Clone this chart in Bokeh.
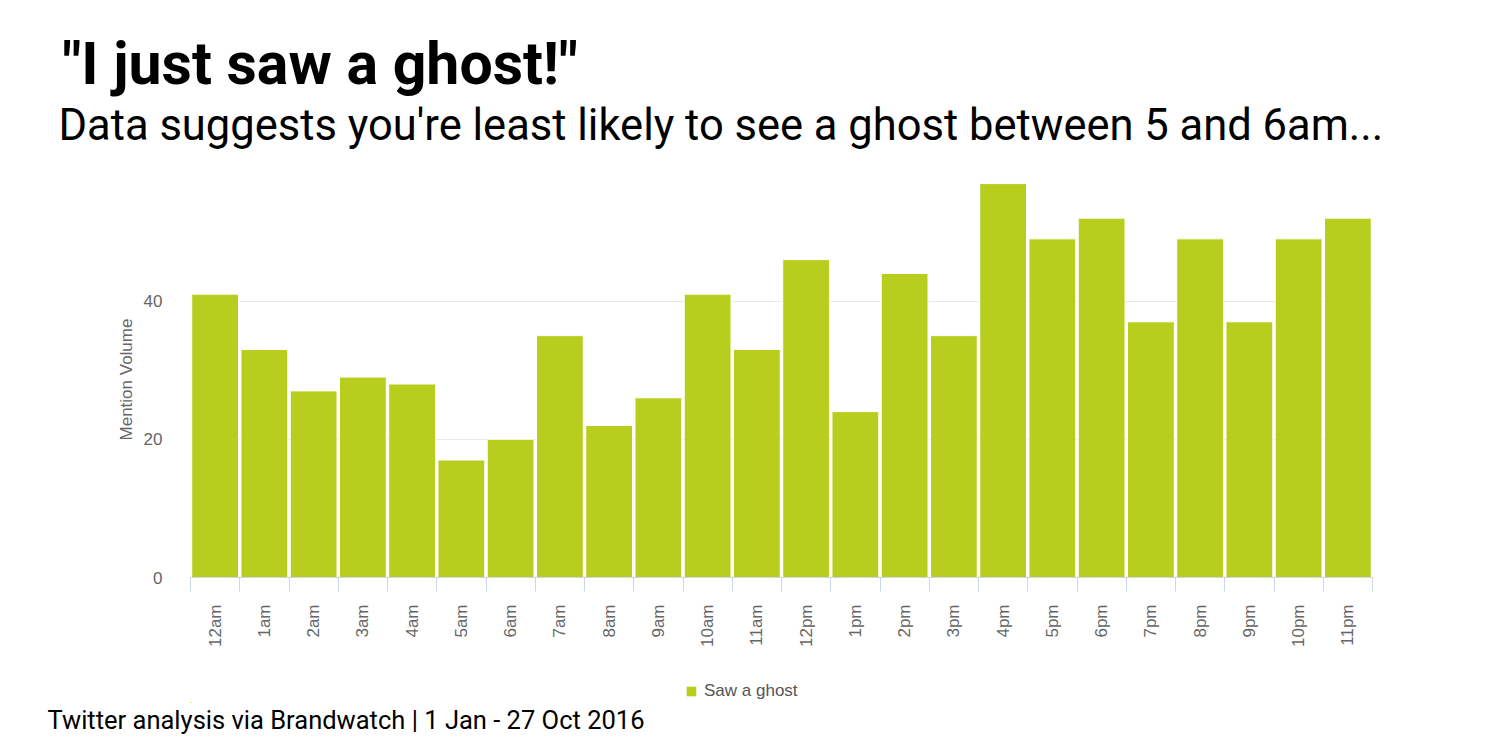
import numpy as np
from bokeh.plotting import figure
from bokeh.layouts import column
from bokeh.models import (ColumnDataSource, Range1d, FixedTicker, LinearAxis, Title,
                          Legend, LegendItem)
from bokeh.embed import file_html
from bokeh.resources import INLINE

hours = ["12am", "1am", "2am", "3am", "4am", "5am", "6am", "7am", "8am", "9am", "10am", "11am",
         "12pm", "1pm", "2pm", "3pm", "4pm", "5pm", "6pm", "7pm", "8pm", "9pm", "10pm", "11pm"]
mentions = [41, 33, 27, 29, 28, 17, 20, 35, 22, 26, 41, 33,
            46, 24, 44, 35, 57, 49, 52, 37, 49, 37, 49, 52]
y_ticks = [0, 20, 40]

title_text = '"I just saw a ghost!"'
subtitle_text = "Data suggests you're least likely to see a ghost between 5 and 6am..."
footer_text = "Twitter analysis via Brandwatch | 1 Jan - 27 Oct 2016"
series_name = "Saw a ghost"

GREEN = "#b7ce1e"
GREY = "#666666"

n = len(hours)
centers = [i + 0.5 for i in range(n)]
bounds = list(range(n + 1))
source = ColumnDataSource(dict(x=centers, top=mentions, hour=hours))

W = 1479
H1 = 665
H2 = 69

p = figure(width=W, height=H1, output_backend="svg", toolbar_location=None, title=None,
           x_range=Range1d(0, n), y_range=Range1d(0, 57.3),
           min_border_left=190, min_border_right=107, min_border_top=181, min_border_bottom=88,
           x_axis_type=None)
p.outline_line_color = None
p.background_fill_color = "white"
p.border_fill_color = "white"

r = p.vbar(x="x", top="top", width=0.95, source=source, fill_color=GREEN,
           line_color="white", line_width=1)

# y axis
p.yaxis.ticker = FixedTicker(ticks=y_ticks)
p.yaxis.axis_line_color = None
p.yaxis.major_tick_line_color = None
p.yaxis.minor_tick_line_color = None
p.yaxis.major_label_text_font = "Liberation Sans"
p.yaxis.major_label_text_font_size = "17px"
p.yaxis.major_label_text_color = GREY
p.yaxis.major_label_standoff = 22
p.yaxis.axis_label = "Mention Volume"
p.yaxis.axis_label_text_font = "Liberation Sans"
p.yaxis.axis_label_text_font_size = "17px"
p.yaxis.axis_label_text_font_style = "normal"
p.yaxis.axis_label_text_color = GREY
p.yaxis.axis_label_standoff = 5
p.ygrid.ticker = FixedTicker(ticks=[20, 40])
p.ygrid.grid_line_color = "#e9e9e9"
p.xgrid.grid_line_color = None

# x axis: labels at category centres, tick marks at category boundaries
ax = LinearAxis(ticker=FixedTicker(ticks=centers, minor_ticks=bounds),
                major_label_overrides={c: h for c, h in zip(centers, hours)})
ax.axis_line_color = "#ccd6eb"
ax.major_tick_line_color = None
ax.major_tick_out = 0
ax.major_tick_in = 0
ax.minor_tick_line_color = "#ccd6eb"
ax.minor_tick_in = 0
ax.minor_tick_out = 14
ax.major_label_orientation = np.pi / 2
ax.major_label_text_font = "Liberation Sans"
ax.major_label_text_font_size = "17px"
ax.major_label_text_color = GREY
ax.major_label_standoff = 13
p.add_layout(ax, "below")

# blank axis above the frame (white tick, empty label), used only as spacing
spacer = LinearAxis(ticker=FixedTicker(ticks=[0]), major_label_overrides={0: ""},
                    axis_line_color=None, major_tick_line_color="white",
                    minor_tick_line_color=None, major_tick_out=31, major_tick_in=0,
                    major_label_standoff=0, major_label_text_font_size="1px")
p.add_layout(spacer, "above")

p.add_layout(Title(text=subtitle_text, align="left", offset=-132, standoff=0,
                   text_font="Roboto", text_font_size="43.5px", text_font_style="normal",
                   text_color="black"), "above")
p.add_layout(Title(text=title_text, align="left", offset=-128, standoff=0,
                   text_font="Roboto", text_font_size="59px", text_font_style="bold",
                   text_color="black"), "above")

# bottom strip: legend and source note
p2 = figure(width=W, height=H2, output_backend="svg", toolbar_location=None, title=None,
            x_range=Range1d(1000, 1000 + n), y_range=Range1d(1000, 1069),
            x_axis_type=None, y_axis_type=None, min_border=0, min_border_bottom=10)
p2.outline_line_color = None
p2.xgrid.grid_line_color = None
p2.ygrid.grid_line_color = None
# same series, far outside this strip's visible ranges: only its legend key shows
key = p2.vbar(x="x", top="top", width=0.95, source=source, fill_color=GREEN,
              line_color=None)
legend = Legend(items=[LegendItem(label=series_name, renderers=[key])],
                location=(495, 1), orientation="horizontal",
                glyph_width=12, glyph_height=12, label_standoff=7,
                label_text_font="Liberation Sans", label_text_font_size="17px",
                label_text_color="#555555", border_line_color=None,
                background_fill_alpha=0, padding=0, margin=0)
p2.add_layout(legend, "center")
p2.add_layout(Title(text=footer_text, align="left", offset=-143, standoff=0,
                    vertical_align="bottom", text_font="Roboto", text_font_size="25.5px",
                    text_font_style="normal", text_color="black"), "below")

open("out.html", "w").write(file_html(column(p, p2, spacing=0), INLINE))
